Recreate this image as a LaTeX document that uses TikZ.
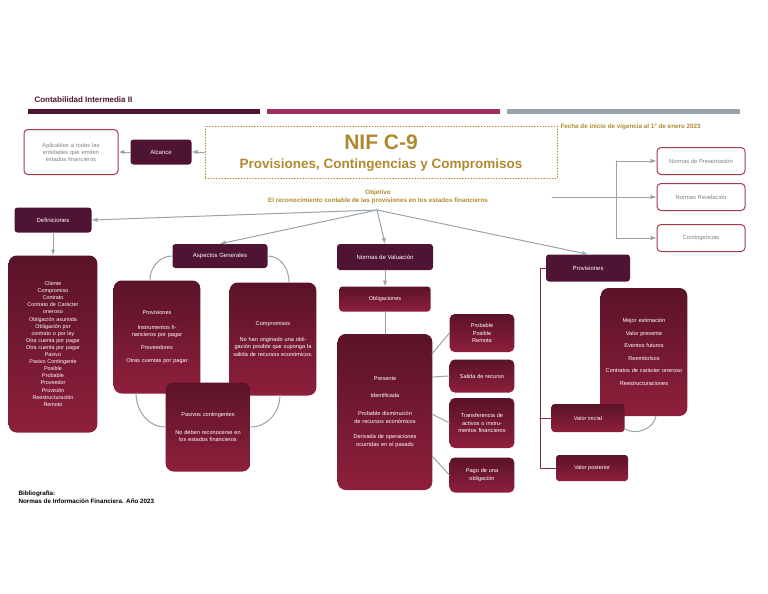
\documentclass[tikz,border=0pt]{standalone}
\usepackage{fontspec}
\setmainfont{Liberation Sans}
\usetikzlibrary{positioning}
\definecolor{vino}{HTML}{4F1433}
\definecolor{vinoA}{HTML}{5A1328}
\definecolor{vinoB}{HTML}{8E1F3C}
\definecolor{rosa}{HTML}{9E2F5E}
\definecolor{oro}{HTML}{B0892E}
\definecolor{gris}{HTML}{9AA3AB}
\definecolor{borde}{HTML}{A83A4E}
\tikzset{
  head/.style={draw=none, fill=vino, rounded corners=3pt, text=white, font=\fontsize{6}{7}\selectfont, align=center, drop shadow/.style={}},
  grad/.style={draw=none, top color=vinoA, bottom color=vinoB, rounded corners=8pt, text=white, font=\fontsize{5.6}{7.6}\selectfont, align=center},
  outbox/.style={draw=borde, line width=1pt, fill=white, rounded corners=4pt, text=gray, font=\fontsize{5.8}{7}\selectfont, align=center},
  link/.style={draw=gris, line width=1pt},
  arr/.style={link, -latex},
}
\begin{document}
\begin{tikzpicture}[x=1pt, y=-1pt, line cap=round, line join=round]
  \useasboundingbox[fill=white] (0,0) rectangle (768,594);
  % header
  \node[anchor=west, text=vino, font=\bfseries\fontsize{8}{9}\selectfont] (curso) at (31,100) {Contabilidad Intermedia II};
  \fill[vino] (28,109) rectangle (260,114);
  \fill[rosa] (267,109) rectangle (500,114);
  \fill[gris] (507,109) rectangle (740,114);
  % title
  \node[draw=oro, dotted, line width=0.8pt, minimum width=352pt, minimum height=52pt] (titulo) at (381,152) {};
  \node[text=oro, font=\bfseries\fontsize{21}{22}\selectfont] (nif) at (381,142) {NIF C-9};
  \node[text=oro, font=\bfseries\fontsize{13.5}{15}\selectfont] (tema) at (381,165) {Provisiones, Contingencias y Compromisos};
  \node[anchor=west, text=oro, font=\bfseries\fontsize{6.3}{7}\selectfont] (fecha) at (557,127) {Fecha de inicio de vigencia al 1° de enero 2023};
  % alcance
  \node[head, minimum width=61pt, minimum height=25pt] (alcance) at (161,152) {Alcance};
  \node[outbox, minimum width=94pt, minimum height=45pt, text width=80pt] (aplica) at (71,152) {Aplicables a todas las entidades que emiten estados financieros};
  \draw[arr] (titulo.west) -- (alcance.east);
  \draw[arr] (alcance.west) -- (aplica.east);
  % objetivo
  \node[text=oro, font=\bfseries\fontsize{6.3}{7.5}\selectfont, align=center] (objetivo) at (378,197) {Objetivo\\El reconocimiento contable de las provisiones en los estados financieros};
  \coordinate (hub) at (377,210);
  % normas
  \node[outbox, minimum width=88pt, minimum height=27pt] (presenta) at (701,161) {Normas de Presentación};
  \node[outbox, minimum width=88pt, minimum height=27pt] (revela) at (701,197) {Normas Revelación};
  \node[outbox, minimum width=88pt, minimum height=27pt] (conting) at (701,238) {Contingencias};
  \coordinate (rama) at (616,197);
  \draw[link] (552,197) -- (rama);
  \draw[link] (616,161) -- (616,238);
  \draw[arr] (616,161) -- (presenta.west);
  \draw[arr] (rama) -- (revela.west);
  \draw[arr] (616,238) -- (conting.west);
  % definiciones
  \node[head, minimum width=77pt, minimum height=25pt] (defs) at (53,220) {Definiciones};
  \node[grad, minimum width=85pt, minimum height=177pt, text width=82pt, font=\fontsize{5.4}{7.1}\selectfont] (lista) at (53,344) {Cliente\\Compromiso\\Contrato\\Contrato de Carácter\\oneroso\\Obligación asumida\\Obligación por\\contrato o por ley\\Otra cuenta por pagar\\Otra cuenta por pagar\\Pasivo\\Pasivo Contingente\\Posible\\Probable\\Proveedor\\Provisión\\Reestructuración\\Remoto};
  \draw[arr] (hub) -- (defs.east);
  \draw[arr] (defs.south) -- (lista.north);
  % aspectos generales
  \node[head, minimum width=95pt, minimum height=24pt] (aspectos) at (220,256) {Aspectos Generales};
  \node[grad, minimum width=86pt, minimum height=113pt, text width=80pt] (provA) at (157,337) {Provisiones\\[7pt]Instrumentos financieros por pagar\\[5pt]Proveedores\\[5pt]Otras cuentas por pagar\\[8pt]};
  \node[grad, minimum width=85pt, minimum height=113pt, text width=80pt] (compro) at (273,339) {Compromisos\\[8pt]No han originado una obligación posible que suponga la salida de recursos económicos.};
  \node[grad, minimum width=84pt, minimum height=89pt, text width=78pt] (pasivos) at (208,427) {Pasivos contingentes\\[10pt]No deben reconocerse en los estados financieros};
  \draw[arr] (hub) -- (aspectos.north);
  \draw[link] (aspectos.west) to[out=180, in=90] (150,280);
  \draw[link] (aspectos.east) to[out=0, in=90] (289,282);
  \draw[link] (136,393) to[out=-90, in=180] (pasivos.west);
  \draw[link] (280,395) to[out=-90, in=0] (pasivos.east);
  % normas de valuacion
  \node[head, minimum width=96pt, minimum height=26pt] (valua) at (385,257) {Normas de Valuación};
  \node[grad, rounded corners=3pt, minimum width=91pt, minimum height=25pt] (oblig) at (385,299) {Obligaciones};
  \node[grad, minimum width=93pt, minimum height=156pt, text width=88pt] (presente) at (385,412) {Presente\\[10pt]Identificada\\[10pt]Probable disminución de recursos económicos\\[8pt]Derivada de operaciones ocurridas en el pasado};
  \node[grad, rounded corners=5pt, minimum width=61pt, minimum height=38pt, text width=58pt] (prob) at (482,333) {Probable\\Posible\\Remota};
  \node[grad, rounded corners=5pt, minimum width=61pt, minimum height=33pt, text width=58pt] (salida) at (482,376) {Salida de recurso};
  \node[grad, rounded corners=5pt, minimum width=61pt, minimum height=50pt, text width=58pt] (transf) at (482,423) {Transferencia de activos o instrumentos financieros};
  \node[grad, rounded corners=5pt, minimum width=61pt, minimum height=35pt, text width=58pt] (pago) at (482,475) {Pago de una obligación};
  \draw[arr] (hub) -- (valua.north);
  \draw[arr] (valua.south) -- (oblig.north);
  \draw[link] (oblig.south) -- (presente.north);
  \draw[link] (432,354) -- (prob.west);
  \draw[link] (432,377) -- (salida.west);
  \draw[link] (432,414) -- (transf.west);
  \draw[link] (432,456) -- (pago.west);
  % provisiones
  \node[head, minimum width=84pt, minimum height=27pt] (prov) at (588,268) {Provisiones};
  \node[grad, minimum width=84pt, minimum height=128pt, text width=80pt] (medida) at (644,352) {Mejor estimación\\[5pt]Valor presente\\[5pt]Eventos futuros\\[5pt]Reembolsos\\[5pt]Contratos de carácter oneroso\\[5pt]Reestructuraciones\\[10pt]};
  \node[grad, rounded corners=3pt, minimum width=73pt, minimum height=28pt] (inicial) at (588,418) {Valor inicial};
  \node[grad, rounded corners=3pt, minimum width=72pt, minimum height=26pt] (poster) at (592,468) {Valor posterior};
  \draw[arr] (hub) -- (prov.north);
  \draw[draw=rosa!70!vino, line width=1pt] (prov.west) -- (540,268) -- (540,468) -- (poster.west);
  \draw[draw=rosa!70!vino, line width=1pt] (540,418) -- (inicial.west);
  \draw[link] (inicial.east) ++(0,11) to[out=-30, in=-100] (656,416);
  % bibliografia
  \node[anchor=north west, align=left, font=\bfseries\fontsize{6.3}{8}\selectfont] (biblio) at (15,487) {Bibliografía:\\Normas de Información Financiera. Año 2023};
\end{tikzpicture}
\end{document}
